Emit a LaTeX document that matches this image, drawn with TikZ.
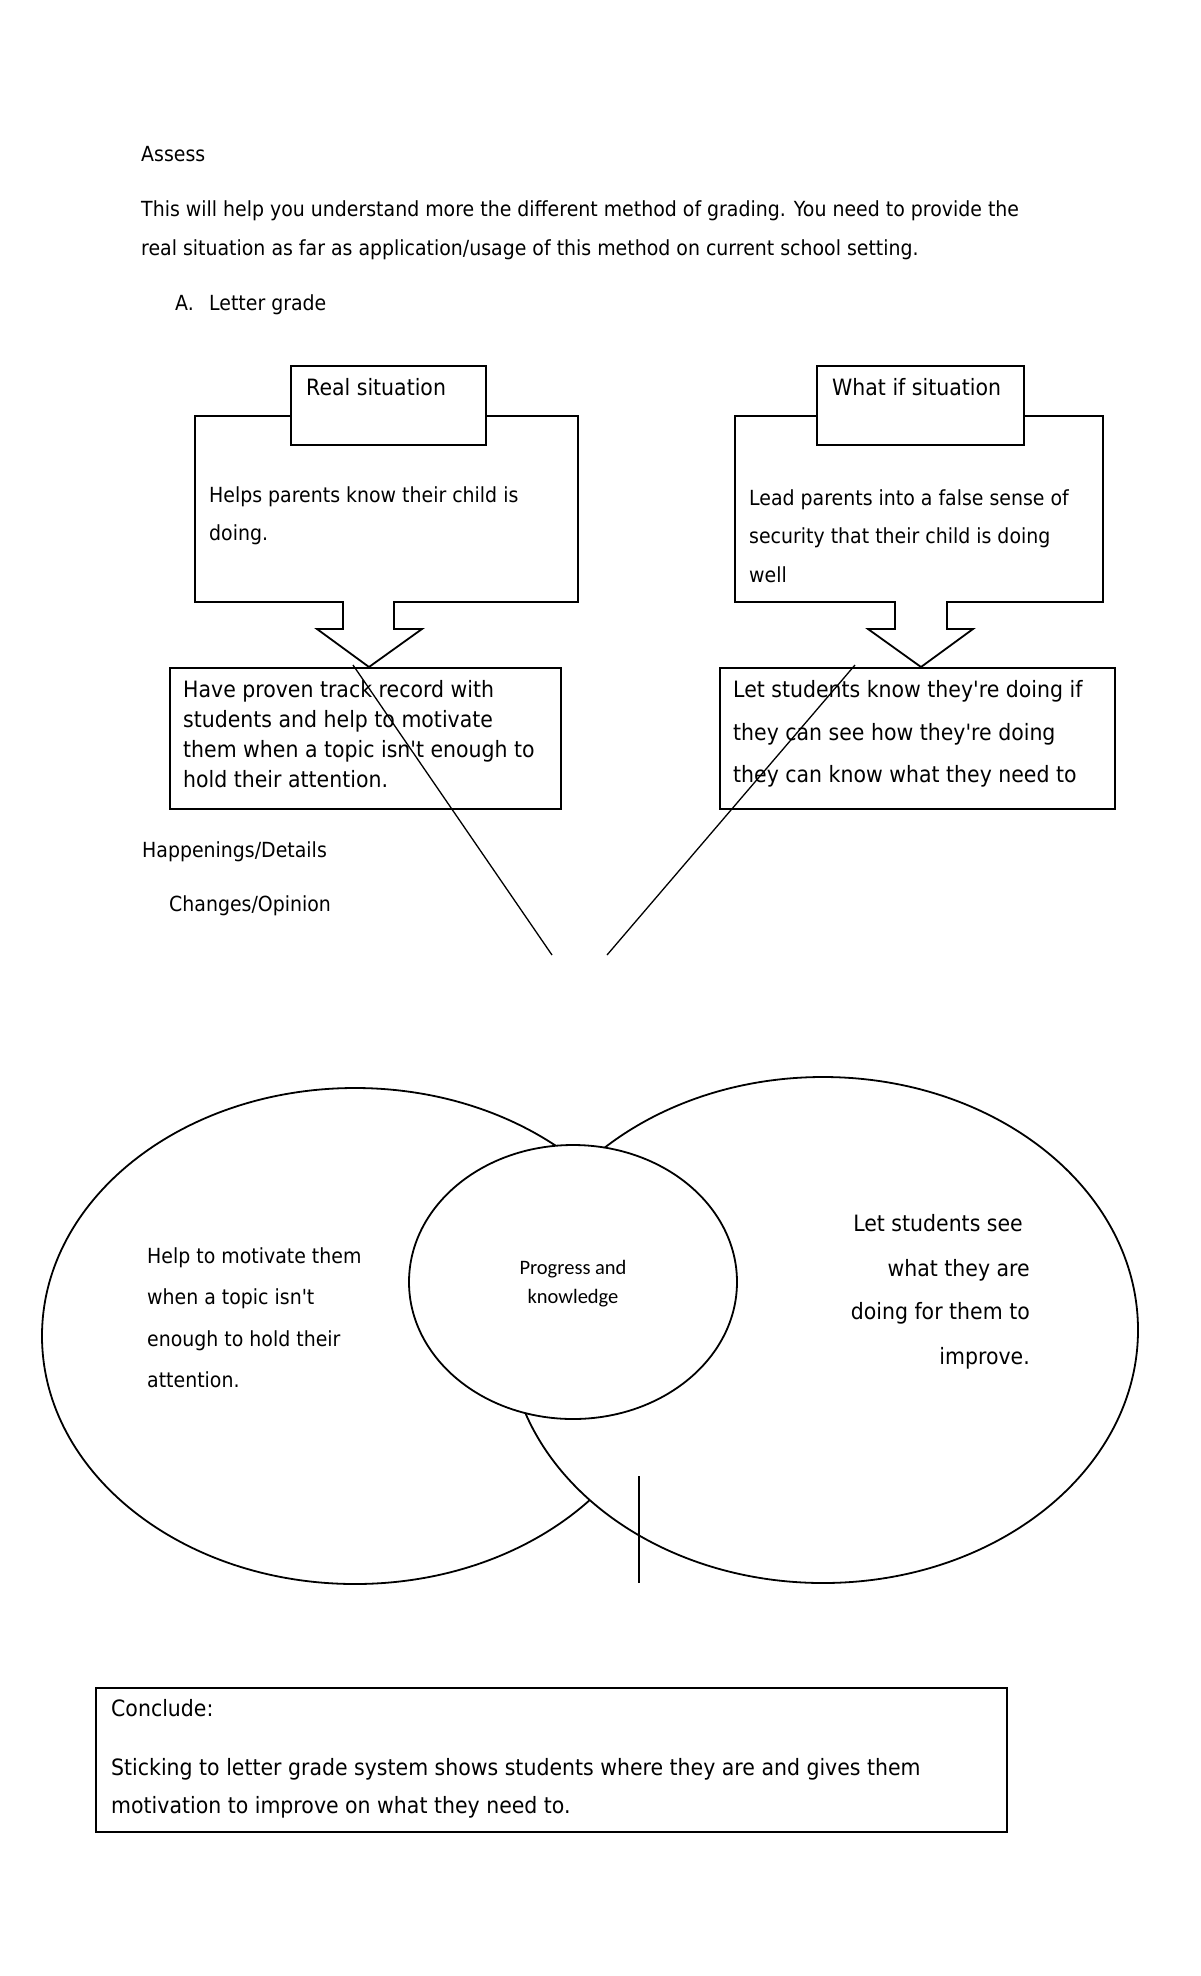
\documentclass[tikz,border=0pt]{standalone}
\usepackage{fontspec}
\setmainfont{DejaVu Sans}[FakeStretch=0.91,Ligatures=TeXOff]
\newfontfamily\calfont{Carlito}[Ligatures=TeXOff]
\usetikzlibrary{shapes.geometric}
\newcommand\bodyfs{\fontsize{20.8}{24}\selectfont}
\newcommand\bigfs{\fontsize{22.5}{26}\selectfont}
\begin{document}
\begin{tikzpicture}[x=1pt,y=-1pt,
  txt/.style={anchor=base west,inner sep=0pt,font=\bodyfs},
  btxt/.style={anchor=base west,inner sep=0pt,font=\bigfs},
  txtr/.style={anchor=base east,inner sep=0pt,font=\bigfs},
  box/.style={draw,line width=1.8pt,fill=white,inner sep=0pt,anchor=north west},
  blockarrow/.style={draw,line width=1.8pt,fill=white,line join=miter},
  thin line/.style={line width=1.3pt},
  venn/.style={ellipse,draw,line width=1.8pt,fill=white,inner sep=0pt}]
\fill[white] (0,0) rectangle (1200,1976);
\useasboundingbox (0,0) rectangle (1200,1976);

% heading text
\node[txt] (assess) at (141,161) {Assess};
\node[txt] (intro1) at (141,216) {This will help you understand more the different method of grading. You need to provide the};
\node[txt] (intro2) at (141,255) {real situation as far as application/usage of this method on current school setting.};
\node[txt] (itemA) at (175,310) {A.};
\node[txt] (lettergrade) at (209,310) {Letter grade};

% left column
\node[box,minimum width=383pt,minimum height=186pt] (realmain) at (194,415) {};
\node[box,minimum width=195pt,minimum height=79pt] (realtitle) at (290,365) {};
\node[btxt] (realtitletxt) at (306,395) {Real situation};
\node[txt] (real1) at (209,502) {Helps parents know their child is};
\node[txt] (real2) at (209,540) {doing.};
\draw[blockarrow] (343,601) -- (343,629) -- (317,629) -- (369,667) -- (422,629) -- (394,629) -- (394,601);
\node[box,minimum width=391pt,minimum height=141pt] (realout) at (169,667) {};
\node[btxt] (ro1) at (183,697) {Have proven track record with};
\node[btxt] (ro2) at (183,727) {students and help to motivate};
\node[btxt] (ro3) at (183,757) {them when a topic isn't enough to};
\node[btxt] (ro4) at (183,787) {hold their attention.};

% right column
\node[box,minimum width=368pt,minimum height=186pt] (whatmain) at (734,415) {};
\node[box,minimum width=207pt,minimum height=79pt] (whattitle) at (816,365) {};
\node[btxt] (whattitletxt) at (832,395) {What if situation};
\node[txt] (what1) at (749,505) {Lead parents into a false sense of};
\node[txt] (what2) at (749,543) {security that their child is doing};
\node[txt] (what3) at (749,582) {well};
\draw[blockarrow] (895,601) -- (895,629) -- (868,629) -- (921,667) -- (973,629) -- (947,629) -- (947,601);
\node[box,minimum width=395pt,minimum height=141pt] (whatout) at (719,667) {};
\node[btxt] (wo1) at (733,697) {Let students know they're doing if};
\node[btxt] (wo2) at (733,740) {they can see how they're doing};
\node[btxt] (wo3) at (733,782) {they can know what they need to};

% diagonal lines
\coordinate (dla) at (353,665);
\coordinate (dlb) at (552,955);
\coordinate (dra) at (855,665);
\coordinate (drb) at (607,955);
\draw[thin line] (dla) -- (dlb);
\draw[thin line] (dra) -- (drb);

\node[txt] (happen) at (142,857) {Happenings/Details};
\node[txt] (changes) at (169,911) {Changes/Opinion};

% venn
\node[venn,minimum width=626pt,minimum height=496pt] (leftell) at (355,1336) {};
\node[venn,minimum width=630pt,minimum height=506pt] (rightell) at (823,1330) {};
\node[venn,minimum width=328pt,minimum height=274pt] (midell) at (573,1282) {};
\node[txt] (le1) at (147,1263) {Help to motivate them};
\node[txt] (le2) at (147,1304) {when a topic isn't};
\node[txt] (le3) at (147,1346) {enough to hold their};
\node[txt] (le4) at (147,1387) {attention.};
\node[anchor=base,inner sep=0pt,font=\calfont\fontsize{20.5}{24}\selectfont] (mid1) at (573,1274) {Progress and};
\node[anchor=base,inner sep=0pt,font=\calfont\fontsize{20.5}{24}\selectfont] (mid2) at (573,1303) {knowledge};
\node[txtr] (re1) at (1023,1231) {Let students see};
\node[txtr] (re2) at (1030,1276) {what they are};
\node[txtr] (re3) at (1030,1319) {doing for them to};
\node[txtr] (re4) at (1030,1364) {improve.};
\coordinate (vta) at (639,1476);
\coordinate (vtb) at (639,1583);
\draw[line width=1.2pt] (vta) -- (vtb);

% conclusion
\node[box,minimum width=911pt,minimum height=144pt] (concl) at (95,1687) {};
\node[btxt] (c0) at (111,1716) {Conclude:};
\node[btxt] (c1) at (111,1775) {Sticking to letter grade system shows students where they are and gives them};
\node[btxt] (c2) at (111,1813) {motivation to improve on what they need to.};
\end{tikzpicture}
\end{document}
